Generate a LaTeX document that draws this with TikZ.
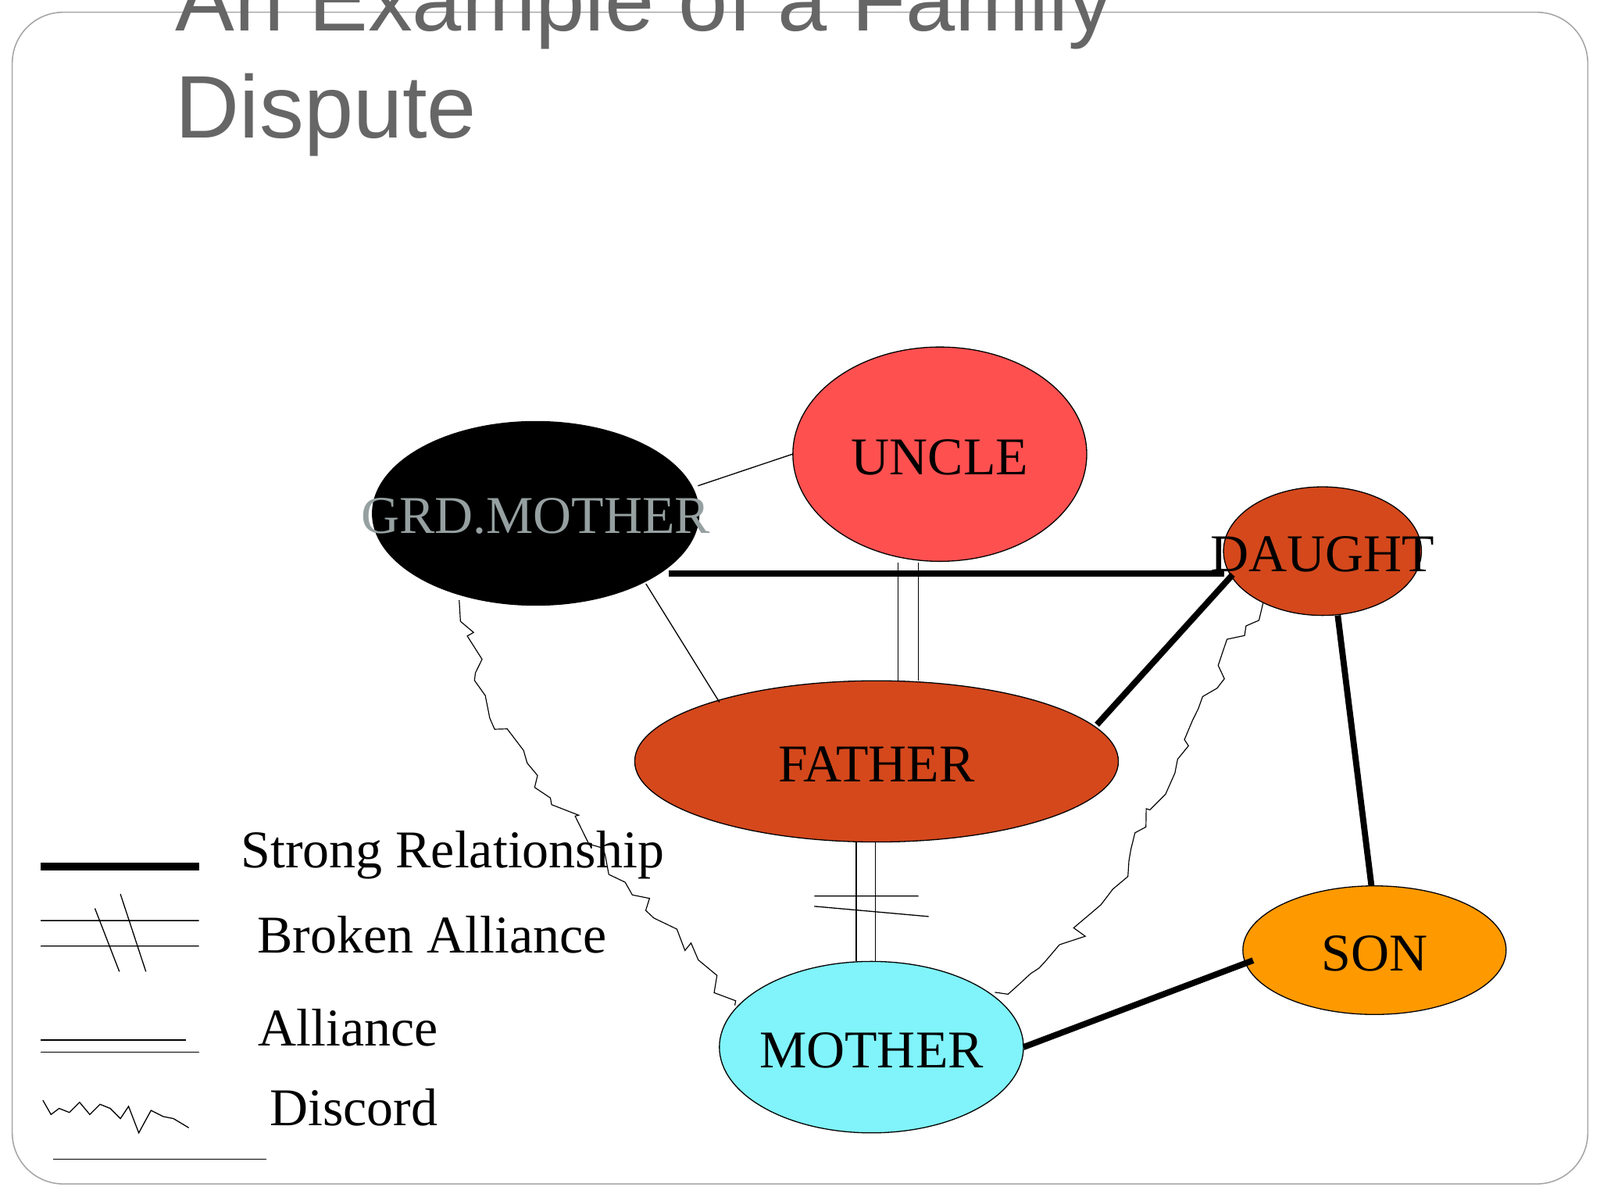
\documentclass[tikz,border=0pt]{standalone}
\usepackage{fontspec}
\setmainfont{Liberation Serif}
\newfontfamily\titlefont{Liberation Sans}
\usetikzlibrary{shapes.geometric,decorations.pathmorphing}
\begin{document}
\begin{tikzpicture}[x=1pt,y=-1pt,
  ell/.style={ellipse,draw=black,line width=1pt,inner sep=0pt},
  txt/.style={font=\fontsize{52}{56}\selectfont,inner sep=0pt},
  strong/.style={line width=6pt},
  thin/.style={line width=1pt},
  discord/.style={line width=0.9pt,decorate,decoration={random steps,segment length=14pt,amplitude=9pt}},
  lab/.style={anchor=base west,font=\fontsize{52}{56}\selectfont,inner sep=0pt}]
\useasboundingbox (0,0) rectangle (1568,1176);
\clip (0,0) rectangle (1568,1176);
\draw[gray!70,line width=1.2pt,rounded corners=50pt] (12,12) rectangle (1556,1160);
\node[anchor=base west,inner sep=0pt,text=black!60,font=\titlefont\fontsize{87}{100}\selectfont] (t1) at (172,30) {An Example of a Family};
\node[anchor=base west,inner sep=0pt,text=black!60,font=\titlefont\fontsize{87}{100}\selectfont] (t2) at (172,135) {Dispute};
% discord lines
\coordinate (d1s) at (450,588); \coordinate (d1e) at (720,985);
\coordinate (d2s) at (1238,590); \coordinate (d2e) at (975,972);
\draw[discord] (d1s) .. controls (480,760) and (600,830) .. (d1e);
\draw[discord] (d2s) .. controls (1150,700) and (1130,900) .. (d2e);
% ellipses
\node[ell,fill=black,minimum width=320pt,minimum height=180pt] (g) at (525,503) {};
\node[ell,fill={rgb,255:red,255;green,80;blue,80},minimum width=288pt,minimum height=210pt] (u) at (921,445) {};
\node[ell,fill={rgb,255:red,212;green,72;blue,28},minimum width=194pt,minimum height=126pt] (d) at (1296,540) {};
\node[ell,fill={rgb,255:red,212;green,72;blue,28},minimum width=474pt,minimum height=158pt] (f) at (859,746) {};
\node[ell,fill={rgb,255:red,128;green,244;blue,250},minimum width=298pt,minimum height=168pt] (m) at (854,1026) {};
\node[ell,fill={rgb,255:red,255;green,153;blue,0},minimum width=258pt,minimum height=126pt] (s) at (1347,931) {};
% connectors
\draw[thin] (684,476) -- (u.west);
\draw[thin] (633,572) -- (705,688);
\draw[strong] (655,562) -- (1200,562);
\draw[thin] (880,551) -- (880,667) (900,551) -- (900,667);
\draw[strong] (1075,710) -- (1208,563);
\draw[strong] (1311,603) -- (1344,868);
\draw[strong] (1003,1026) -- (1228,941);
\draw[thin] (839,825) -- (839,942) (858,825) -- (858,942);
\draw[thin] (798,878) -- (900,878) (798,888) -- (910,898);
% labels
\node[txt,text={rgb,255:red,150;green,160;blue,160}] (gt) at (525,506) {GRD.MOTHER};
\node[txt] (ut) at (921,448) {UNCLE};
\node[txt] (dt) at (1296,543) {DAUGHT};
\node[txt] (ft) at (859,749) {FATHER};
\node[txt] (mt) at (854,1029) {MOTHER};
\node[txt] (st) at (1347,934) {SON};
% legend
\draw[strong,line width=8pt] (40,849) -- (195,849);
\draw[thin] (40,902) -- (195,902) (40,927) -- (195,927) (93,890) -- (117,952) (118,876) -- (143,952);
\draw[thin] (40,1019) -- (182,1019) (40,1031) -- (195,1031);
\draw[thin] (42,1078) -- (50,1092) -- (58,1086) -- (68,1090) -- (78,1080) -- (88,1092) -- (98,1082) -- (108,1086) -- (118,1096) -- (126,1084) -- (136,1110) -- (148,1088) -- (160,1094) -- (170,1096) -- (185,1105);
\draw[thin] (52,1136) -- (261,1136);
\node[lab] (l1) at (236,850) {Strong Relationship};
\node[lab] (l2) at (252,934) {Broken Alliance};
\node[lab] (l3) at (253,1025) {Alliance};
\node[lab] (l4) at (264,1103) {Discord};
\end{tikzpicture}
\end{document}
